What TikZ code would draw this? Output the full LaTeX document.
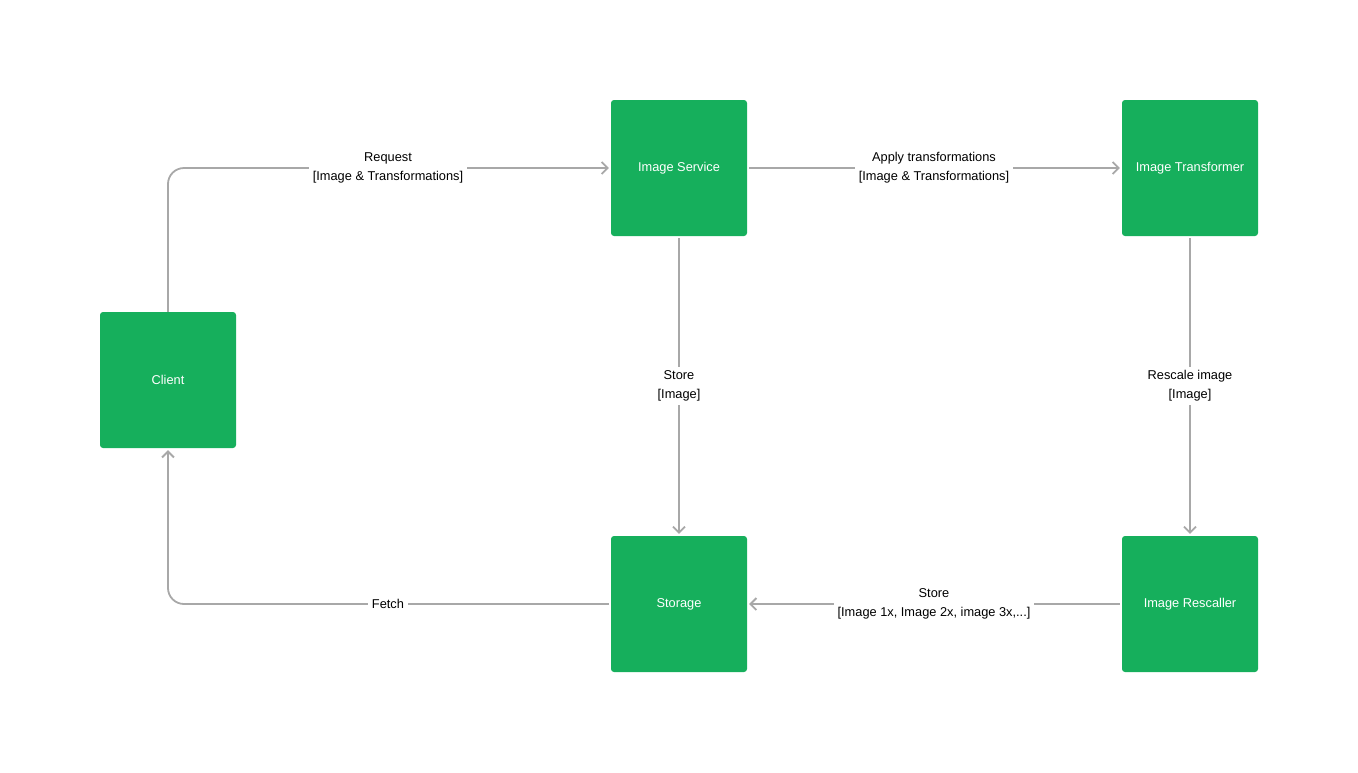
\documentclass[tikz,border=0pt]{standalone}
\usepackage{fontspec}
\setmainfont{Liberation Sans}
\usetikzlibrary{arrows.meta}
\definecolor{boxg}{HTML}{16AF5C}
\definecolor{lineg}{HTML}{A8A8A8}
\begin{document}
\begin{tikzpicture}[x=1pt,y=-1pt,
 box/.style={fill=boxg,draw=none,rounded corners=3pt,minimum width=136pt,minimum height=136pt,text=white,font=\fontsize{12.8}{15}\selectfont},
 conn/.style={draw=lineg,line width=1.8pt,-{Straight Barb[length=6pt,width=12pt]},rounded corners=16pt},
 lab/.style={fill=white,align=center,font=\fontsize{12.8}{19}\selectfont,inner sep=4pt}]
\useasboundingbox (0,0) rectangle (1358,772);
\node[box] (svc) at (679,168) {Image Service};
\node[box] (tr) at (1190,168) {Image Transformer};
\node[box] (cl) at (168,380) {Client};
\node[box] (st) at (679,604) {Storage};
\node[box] (rs) at (1190,604) {Image Rescaller};
\coordinate (c1) at (168,168);
\coordinate (c2) at (168,604);
\draw[conn, shorten >=2pt] (cl.north) -- (c1) -- (svc.west);
\node[lab] at (388,168) {Request\\{[Image \& Transformations]}};
\draw[conn, shorten <=2pt, shorten >=2pt] (svc.east) -- (tr.west);
\node[lab] at (934,168) {Apply transformations\\{[Image \& Transformations]}};
\draw[conn, shorten <=2pt, shorten >=2pt] (svc.south) -- (st.north);
\node[lab] at (679,386) {Store\\{[Image]}};
\draw[conn, shorten <=2pt, shorten >=2pt] (tr.south) -- (rs.north);
\node[lab] at (1190,386) {Rescale image\\{[Image]}};
\draw[conn, shorten <=2pt, shorten >=2pt] (rs.west) -- (st.east);
\node[lab] at (934,604) {Store\\{[Image 1x, Image 2x, image 3x,...]}};
\draw[conn, shorten <=2pt, shorten >=2pt] (st.west) -- (c2) -- (cl.south);
\node[lab] at (388,604) {Fetch};
\end{tikzpicture}
\end{document}
